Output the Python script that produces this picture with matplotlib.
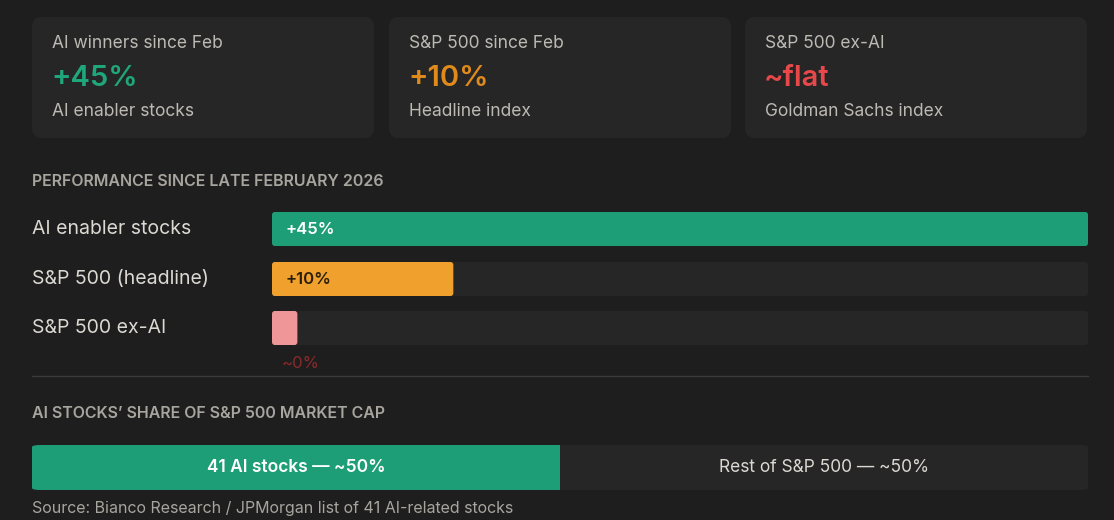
import matplotlib.pyplot as plt
from matplotlib.patches import FancyBboxPatch

plt.rcParams['font.family'] = ['Inter', 'DejaVu Sans']

card_titles = ['AI winners since Feb', 'S&P 500 since Feb', 'S&P 500 ex-AI']
card_values = ['+45%', '+10%', '~flat']
card_subs = ['AI enabler stocks', 'Headline index', 'Goldman Sachs index']
card_colors = ['#1fa67a', '#e08a1c', '#e8484a']

bar_labels = ['AI enabler stocks', 'S&P 500 (headline)', 'S&P 500 ex-AI']
bar_values = [45, 10, 0]
bar_texts = ['+45%', '+10%', '~0%']
bar_colors = ['#1d9e76', '#f0a02c', '#ef9698']

share_labels = ['41 AI stocks — ~50%', 'Rest of S&P 500 — ~50%']
share_values = [50, 50]

BG = '#1e1e1e'
CARD = '#262626'
W, H = 1114, 520

fig = plt.figure(figsize=(W / 100, H / 100), dpi=100, facecolor=BG)
ov = fig.add_axes([0, 0, 1, 1])
ov.set_xlim(0, W)
ov.set_ylim(H, 0)
ov.axis('off')

# stat cards
card_x = [32, 389, 745]
for i, x in enumerate(card_x):
    ov.add_patch(FancyBboxPatch((x, 17), 342, 121, boxstyle='round,pad=0,rounding_size=10',
                                fc=CARD, ec='none'))
    ov.text(x + 20, 44, card_titles[i], color='#bdbab4', fontsize=12.5, va='center')
    ov.text(x + 19, 78, card_values[i], color=card_colors[i], fontsize=21, va='center',
            fontweight='semibold')
    ov.text(x + 20, 112, card_subs[i], color='#bdbab4', fontsize=12.5, va='center')

ov.text(32, 182, 'PERFORMANCE SINCE LATE FEBRUARY 2026', color='#a8a59f', fontsize=11.5,
        va='center', fontweight='semibold')
ov.plot([32, 1088], [375.5, 375.5], color='#3a3a3a', lw=1)
ov.text(32, 414, 'AI STOCKS\u2019 SHARE OF S&P 500 MARKET CAP', color='#a8a59f', fontsize=11.5,
        va='center', fontweight='semibold')
ov.text(32, 509, 'Source: Bianco Research / JPMorgan list of 41 AI-related stocks',
        color='#a8a59f', fontsize=11.5, va='center')

# performance bars
bar_y = [229, 279, 328]
for lab, y in zip(bar_labels, bar_y):
    ov.text(32, y, lab, color='#dcd9d3', fontsize=14, va='center')

ax = fig.add_axes([272 / W, 1 - 350 / H, (1088 - 272) / W, (350 - 208) / H])
ax.set_xlim(0, max(bar_values))
ax.set_ylim(350, 208)
ax.axis('off')
ax.patch.set_alpha(0)
for v, y, c, t in zip(bar_values, bar_y, bar_colors, bar_texts):
    ax.add_patch(FancyBboxPatch((0, y - 17), 45, 34, boxstyle='round,pad=0,rounding_size=0.15',
                                fc=CARD, ec='none', mutation_aspect=20))
    w = max(v, 1.4)
    ax.add_patch(FancyBboxPatch((0, y - 17), w, 34, boxstyle='round,pad=0,rounding_size=0.15',
                                fc=c, ec='none', mutation_aspect=20))
    if v > 5:
        ax.text(0.75, y, t, color='#ffffff' if v > 20 else '#2a1e0a', fontsize=12,
                va='center', fontweight='semibold')
    else:
        ax.text(0.55, y + 35, t, color='#8a2a2a', fontsize=12, va='center')

# share bar
sx = fig.add_axes([32 / W, 1 - 490 / H, (1088 - 32) / W, 45 / H])
sx.set_xlim(0, sum(share_values))
sx.set_ylim(0, 1)
sx.axis('off')
sx.add_patch(FancyBboxPatch((0, 0), 100, 1, boxstyle='round,pad=0,rounding_size=0.8',
                            fc=CARD, ec='none', mutation_aspect=1 / 0.8 * 0.045))
sx.add_patch(FancyBboxPatch((0, 0), share_values[0], 1, boxstyle='round,pad=0,rounding_size=0.8',
                            fc='#1d9e76', ec='none', mutation_aspect=1 / 0.8 * 0.045))
sx.barh(0.5, 2, left=share_values[0] - 2, height=1, color='#1d9e76')
sx.text(share_values[0] / 2, 0.5, share_labels[0], color='#ffffff', fontsize=12.5,
        ha='center', va='center', fontweight='semibold')
sx.text(share_values[0] + share_values[1] / 2, 0.5, share_labels[1], color='#dcd9d3',
        fontsize=12.5, ha='center', va='center')

fig.savefig('out.png', dpi=100, facecolor=BG)
